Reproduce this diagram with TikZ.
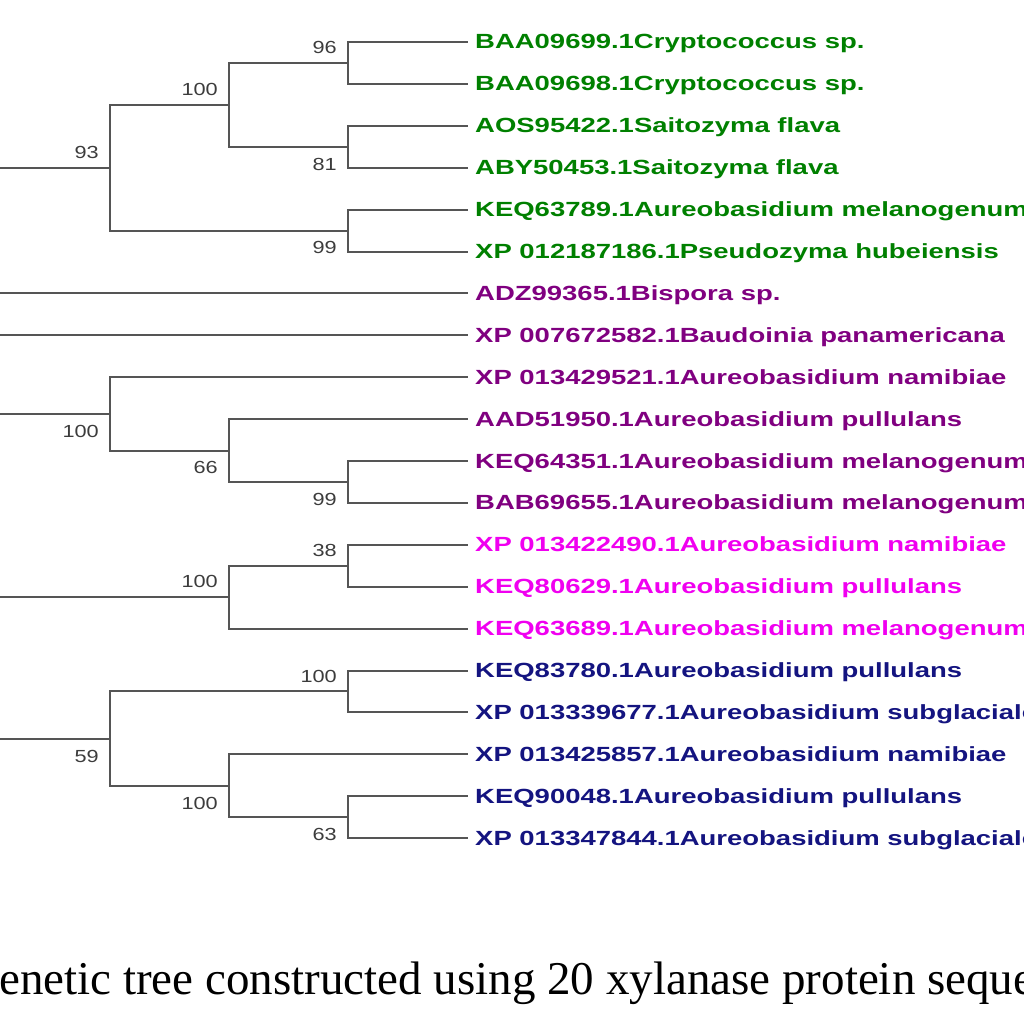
\documentclass[tikz,border=0pt]{standalone}
\usepackage{fontspec}
\setmainfont{Liberation Serif}
\newfontfamily\treefont[FakeStretch=1.34]{Liberation Sans}
\newfontfamily\bsfont[FakeStretch=1.24]{Liberation Sans}
\usetikzlibrary{positioning}
\definecolor{branchgray}{RGB}{85,85,85}
\definecolor{bsgray}{RGB}{60,60,60}
\definecolor{cladegreen}{RGB}{0,128,0}
\definecolor{cladepurple}{RGB}{128,0,128}
\definecolor{cladepink}{RGB}{240,0,240}
\definecolor{cladenavy}{RGB}{20,20,128}

\begin{document}
\begin{tikzpicture}[x=1pt, y=-1pt,
  br/.style={draw=branchgray, line width=2pt},
  leaf/.style={anchor=west, inner xsep=7pt, inner ysep=0pt, text height=14pt, text depth=0pt,
    font={\treefont\bfseries\fontsize{20.5}{24}\selectfont}},
  bs/.style={inner sep=0pt, text=bsgray, font={\bsfont\fontsize{17.5}{20}\selectfont}},
  caption/.style={anchor=base west, inner sep=0pt, font={\fontsize{47}{50}\selectfont}}]
  \useasboundingbox (0,0) rectangle (1024,1024);
  \clip (0,0) rectangle (1024,1024);

  % leaves
  \node[leaf, text=cladegreen] (crya) at (468,42.0) {BAA09699.1Cryptococcus sp.};
  \node[leaf, text=cladegreen] (cryb) at (468,83.9) {BAA09698.1Cryptococcus sp.};
  \node[leaf, text=cladegreen] (saia) at (468,125.8) {AOS95422.1Saitozyma flava};
  \node[leaf, text=cladegreen] (saib) at (468,167.7) {ABY50453.1Saitozyma flava};
  \node[leaf, text=cladegreen] (mela) at (468,209.6) {KEQ63789.1Aureobasidium melanogenum};
  \node[leaf, text=cladegreen] (pseu) at (468,251.5) {XP 012187186.1Pseudozyma hubeiensis};
  \node[leaf, text=cladepurple] (bisp) at (468,293.4) {ADZ99365.1Bispora sp.};
  \node[leaf, text=cladepurple] (baud) at (468,335.3) {XP 007672582.1Baudoinia panamericana};
  \node[leaf, text=cladepurple] (nama) at (468,377.2) {XP 013429521.1Aureobasidium namibiae};
  \node[leaf, text=cladepurple] (pula) at (468,419.1) {AAD51950.1Aureobasidium pullulans};
  \node[leaf, text=cladepurple] (melb) at (468,461.0) {KEQ64351.1Aureobasidium melanogenum};
  \node[leaf, text=cladepurple] (melc) at (468,502.9) {BAB69655.1Aureobasidium melanogenum};
  \node[leaf, text=cladepink] (namb) at (468,544.8) {XP 013422490.1Aureobasidium namibiae};
  \node[leaf, text=cladepink] (pulb) at (468,586.7) {KEQ80629.1Aureobasidium pullulans};
  \node[leaf, text=cladepink] (meld) at (468,628.6) {KEQ63689.1Aureobasidium melanogenum};
  \node[leaf, text=cladenavy] (pulc) at (468,670.5) {KEQ83780.1Aureobasidium pullulans};
  \node[leaf, text=cladenavy] (suba) at (468,712.4) {XP 013339677.1Aureobasidium subglaciale};
  \node[leaf, text=cladenavy] (namc) at (468,754.3) {XP 013425857.1Aureobasidium namibiae};
  \node[leaf, text=cladenavy] (puld) at (468,796.2) {KEQ90048.1Aureobasidium pullulans};
  \node[leaf, text=cladenavy] (subb) at (468,838.1) {XP 013347844.1Aureobasidium subglaciale};

  % inner nodes
  \coordinate (n96) at (348,62.95);
  \coordinate (n81) at (348,146.75);
  \coordinate (n100a) at (229,104.85);
  \coordinate (n99a) at (348,230.55);
  \coordinate (n93) at (110,167.7);
  \coordinate (n99b) at (348,481.95);
  \coordinate (n66) at (229,450.5);
  \coordinate (n100b) at (110,413.9);
  \coordinate (n38) at (348,565.75);
  \coordinate (n100c) at (229,597.2);
  \coordinate (n100d) at (348,691.45);
  \coordinate (n63) at (348,817.15);
  \coordinate (n100e) at (229,785.7);
  \coordinate (n59) at (110,738.6);
  % stems coming in from the cut-off root
  \coordinate (in93) at (-4,167.7);
  \coordinate (inbisp) at (-4,293.4);
  \coordinate (inbaud) at (-4,335.3);
  \coordinate (in100b) at (-4,413.9);
  \coordinate (in100c) at (-4,597.2);
  \coordinate (in59) at (-4,738.6);

  % branches
  \draw[br] (in93) -- (n93);
  \draw[br] (n93) |- (n100a);
  \draw[br] (n93) |- (n99a);
  \draw[br] (n100a) |- (n96);
  \draw[br] (n100a) |- (n81);
  \draw[br] (n96) |- (crya);
  \draw[br] (n96) |- (cryb);
  \draw[br] (n81) |- (saia);
  \draw[br] (n81) |- (saib);
  \draw[br] (n99a) |- (mela);
  \draw[br] (n99a) |- (pseu);
  \draw[br] (inbisp) -- (bisp);
  \draw[br] (inbaud) -- (baud);
  \draw[br] (in100b) -- (n100b);
  \draw[br] (n100b) |- (nama);
  \draw[br] (n100b) |- (n66);
  \draw[br] (n66) |- (pula);
  \draw[br] (n66) |- (n99b);
  \draw[br] (n99b) |- (melb);
  \draw[br] (n99b) |- (melc);
  \draw[br] (in100c) -- (n100c);
  \draw[br] (n100c) |- (n38);
  \draw[br] (n100c) |- (meld);
  \draw[br] (n38) |- (namb);
  \draw[br] (n38) |- (pulb);
  \draw[br] (in59) -- (n59);
  \draw[br] (n59) |- (n100d);
  \draw[br] (n59) |- (n100e);
  \draw[br] (n100d) |- (pulc);
  \draw[br] (n100d) |- (suba);
  \draw[br] (n100e) |- (namc);
  \draw[br] (n100e) |- (n63);
  \draw[br] (n63) |- (puld);
  \draw[br] (n63) |- (subb);

  % bootstrap values
  \node[bs, above left=9pt and 11pt of n96] (b96) {96};
  \node[bs, below left=11pt and 11pt of n81] (b81) {81};
  \node[bs, above left=9pt and 11pt of n100a] (b100a) {100};
  \node[bs, below left=11pt and 11pt of n99a] (b99a) {99};
  \node[bs, above left=9pt and 11pt of n93] (b93) {93};
  \node[bs, below left=11pt and 11pt of n100b] (b100b) {100};
  \node[bs, below left=11pt and 11pt of n66] (b66) {66};
  \node[bs, below left=11pt and 11pt of n99b] (b99b) {99};
  \node[bs, above left=9pt and 11pt of n38] (b38) {38};
  \node[bs, above left=9pt and 11pt of n100c] (b100c) {100};
  \node[bs, above left=9pt and 11pt of n100d] (b100d) {100};
  \node[bs, below left=11pt and 11pt of n59] (b59) {59};
  \node[bs, below left=11pt and 11pt of n100e] (b100e) {100};
  \node[bs, below left=11pt and 11pt of n63] (b63) {63};

  \node[caption] (cap) at (-1,994) {enetic tree constructed using 20 xylanase protein seque};
\end{tikzpicture}
\end{document}
